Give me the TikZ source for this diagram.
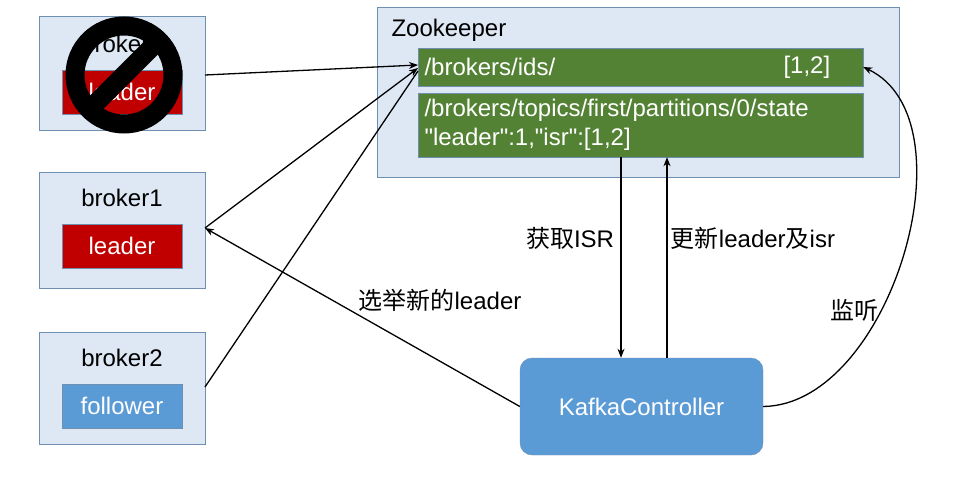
\documentclass[tikz,border=0pt]{standalone}
\usepackage{fontspec}
\setmainfont{Liberation Sans}[Ligatures=NoCommon]
\newfontfamily\cjk{Noto Sans CJK SC}
\usetikzlibrary{arrows.meta}
\definecolor{boxbg}{HTML}{DEE8F4}
\definecolor{boxln}{HTML}{6F8FB0}
\definecolor{grn}{HTML}{548235}
\definecolor{red}{HTML}{C00000}
\definecolor{blu}{HTML}{5B9BD5}
\newcommand{\myq}{\textquotedbl}
\begin{document}
\begin{tikzpicture}[x=1pt,y=-1pt,
  box/.style={draw=boxln,fill=boxbg,line width=1pt},
  inner/.style={draw=boxln,line width=0.8pt,text=white,font=\fontsize{24}{28}\selectfont},
  lbl/.style={font=\fontsize{24}{29}\selectfont},
  arr/.style={-{Stealth[length=9pt,width=7pt]},line width=1.3pt}]
\useasboundingbox (0,0) rectangle (955,484);
% brokers
\draw[box] (39,17) rectangle (205,131);
\node[inner,fill=red,minimum width=120pt,minimum height=44pt] (l0) at (122,92) {leader};
\node[lbl] (b0) at (122,44) {broker0};
\draw[box] (39,172) rectangle (205,288);
\node[lbl] (b1) at (122,198) {broker1};
\node[inner,fill=red,minimum width=120pt,minimum height=44pt] (l1) at (122,246) {leader};
\draw[box] (39,332) rectangle (205,444);
\node[lbl] (b2) at (122,358) {broker2};
\node[inner,fill=blu,minimum width=120pt,minimum height=44pt] (f2) at (122,406) {follower};
\coordinate (b0r) at (205,75);
\coordinate (b1r) at (205,228);
\coordinate (b2r) at (205,387);
% prohibition sign
\draw[line width=19pt] (124,75) circle (49);
\draw[line width=19pt] (124,75) ++(135:49) -- ++(-45:98);
% zookeeper
\draw[box] (377,8) rectangle (899,177);
\node[lbl,anchor=west] (zk) at (388,30) {Zookeeper};
\node[draw=boxln,fill=grn,minimum width=445pt,minimum height=38pt] (g1) at (640.5,67) {};
\node[anchor=west,text=white,lbl] at (421,67) {/brokers/ids/};
\node[anchor=west,text=white,lbl] at (780,67) {[1,2]};
\node[draw=boxln,fill=grn,minimum width=445pt,minimum height=64pt] (g2) at (640.5,125) {};
\node[anchor=west,text=white,lbl,align=left] at (421,125) {/brokers/topics/first/partitions/0/state\\\myq leader\myq:1,\myq isr\myq:[1,2]};
% controller
\node[draw=boxln,fill=blu,rounded corners=12pt,minimum width=243pt,minimum height=97pt,text=white,lbl] (kc) at (641.5,406.5) {KafkaController};
% connectors
\coordinate (z0) at (418,65);
\coordinate (z1) at (418,68);
\coordinate (z2) at (418,71);
\draw[arr] (b0r) -- (z0);
\draw[arr] (b1r) -- (z1);
\draw[line width=1.3pt] (b2r) -- (z2);
\draw[arr] (kc.west) -- (b1r);
\draw[arr] (g2.south -| 621,0) -- (kc.north -| 621,0);
\draw[arr] (kc.north -| 667,0) -- (g2.south -| 667,0);
\draw[arr] (kc.east) .. controls (890,405) and (975,120) .. (g1.east);
\node[lbl] at (570,238) {{\cjk 获取}ISR};
\node[lbl] at (753,238) {{\cjk 更新}leader{\cjk 及}isr};
\node[lbl] at (440,300) {{\cjk 选举新的}leader};
\node[lbl] at (854,310) {\cjk 监听};
\end{tikzpicture}
\end{document}
